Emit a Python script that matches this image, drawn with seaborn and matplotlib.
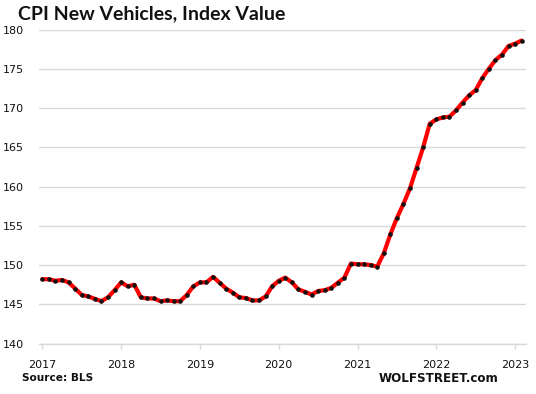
import matplotlib
matplotlib.use("Agg")
import matplotlib.pyplot as plt
import seaborn as sns
import numpy as np
import pandas as pd

# Monthly CPI New Vehicles index, Jan 2017 .. Feb 2023
values_2017 = [148.2, 148.2, 148.0, 148.1, 147.8, 147.0, 146.2, 146.0, 145.7, 145.4, 145.9, 146.8]
values_2018 = [147.8, 147.3, 147.5, 145.9, 145.75, 145.75, 145.4, 145.5, 145.4, 145.4, 146.2, 147.3]
values_2019 = [147.8, 147.8, 148.5, 147.75, 147.0, 146.5, 145.9, 145.8, 145.5, 145.5, 146.0, 147.3]
values_2020 = [148.0, 148.4, 147.8, 146.9, 146.6, 146.25, 146.7, 146.8, 147.1, 147.75, 148.4, 150.2]
values_2021 = [150.1, 150.1, 150.0, 149.8, 151.5, 153.9, 156.0, 157.8, 159.8, 162.4, 165.0, 168.0]
values_2022 = [168.55, 168.8, 168.9, 169.7, 170.7, 171.6, 172.3, 173.8, 175.0, 176.1, 176.8, 177.9]
values_2023 = [178.2, 178.6]

start_year = 2017
year_ticks = [2017, 2018, 2019, 2020, 2021, 2022, 2023]
y_ticks = [140, 145, 150, 155, 160, 165, 170, 175, 180]

values = values_2017 + values_2018 + values_2019 + values_2020 + values_2021 + values_2022 + values_2023
x = start_year + np.arange(len(values)) / 12.0
df = pd.DataFrame({"date": x, "cpi": values})

sns.set_theme(style="white")
plt.rcParams["font.family"] = ["DejaVu Sans"]

fig = plt.figure(figsize=(5.36, 3.94), dpi=100)
ax = fig.add_axes([0.0728, 0.1279, 0.9813 - 0.0728, 0.9251 - 0.1279])

sns.lineplot(data=df, x="date", y="cpi", ax=ax, color="#ff0000", linewidth=3.0,
             marker="o", markersize=2.8, markerfacecolor="#111111", markeredgecolor="#111111",
             markeredgewidth=0.4, zorder=3)

ax.set_ylim(140, 180)
ax.set_xlim(2016.958, 2023.138)
ax.set_yticks(y_ticks)
ax.set_xticks(year_ticks)
ax.set_xticklabels([str(y) for y in year_ticks])
ax.set_xlabel("")
ax.set_ylabel("")

ax.grid(axis="y", color="#d9d9d9", linewidth=1.0)
ax.grid(axis="x", visible=False)
for s in ["left", "right", "top"]:
    ax.spines[s].set_visible(False)
ax.spines["bottom"].set_color("#d9d9d9")
ax.spines["bottom"].set_linewidth(1.0)
ax.spines["bottom"].set_zorder(1)

ax.tick_params(axis="y", length=0, pad=11, labelsize=8, labelcolor="#111111")
ax.tick_params(axis="x", length=3.5, width=1.0, color="#d9d9d9", direction="out",
               pad=8, labelsize=8, labelcolor="#111111", bottom=True)

fig.text(18 / 536, 1 - 19.5 / 394, "CPI New Vehicles, Index Value", fontsize=14,
         fontweight="bold", family="Lato", color="#111111", ha="left", va="baseline")
fig.text(22 / 536, 1 - 381 / 394, "Source: BLS", fontsize=7.6, fontweight="bold",
         color="#111111", ha="left", va="baseline")
fig.text(379 / 536, 1 - 382 / 394, "WOLFSTREET.com", fontsize=8.6, fontweight="bold",
         color="#111111", ha="left", va="baseline")

fig.savefig("out.png", dpi=100)
